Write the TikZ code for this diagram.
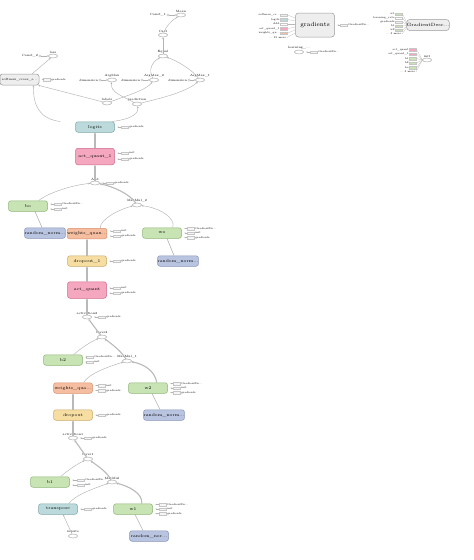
\documentclass[tikz,border=0pt]{standalone}
\usetikzlibrary{shapes.geometric,arrows.meta,calc}
\definecolor{tealf}{HTML}{BCDADB}\definecolor{teald}{HTML}{7FA8A9}
\definecolor{pinkf}{HTML}{F4A7BF}\definecolor{pinkd}{HTML}{D06A8A}
\definecolor{greenf}{HTML}{C8E3B4}\definecolor{greend}{HTML}{8CB573}
\definecolor{bluef}{HTML}{B9C5E0}\definecolor{blued}{HTML}{8894B8}
\definecolor{orangef}{HTML}{F6BEA0}\definecolor{oranged}{HTML}{D9906E}
\definecolor{yellowf}{HTML}{F6DDA2}\definecolor{yellowd}{HTML}{C9A96A}
\definecolor{grayf}{HTML}{EEEEEE}\definecolor{grayd}{HTML}{9A9A9A}
\tikzset{
  opbox/.style={draw=#1d,fill=#1f,rounded corners=2.5pt,line width=0.5pt,
    minimum width=39pt,minimum height=10.5pt,inner sep=0pt,font=\fontsize{4.2}{5}\selectfont},
  tallbox/.style={opbox=#1,minimum height=16.5pt},
  ell/.style={ellipse,draw=grayd,fill=white,line width=0.4pt,minimum width=9pt,minimum height=4pt,inner sep=0pt},
  elab/.style={font=\fontsize{3.1}{3.4}\selectfont,inner sep=0.5pt},
  cst/.style={circle,draw=grayd,fill=white,line width=0.3pt,minimum size=2.5pt,inner sep=0pt},
  abox/.style={draw=gray!45,fill=#1,line width=0.2pt,minimum width=7pt,minimum height=2.6pt,inner sep=0pt},
  abox/.default=gray!8,
  alab/.style={font=\fontsize{2.6}{2.8}\selectfont,inner sep=0.6pt},
  aedge/.style={draw=gray!60,line width=0.25pt,-{Stealth[length=1.4pt,width=1.3pt]}},
  pedge/.style={draw=gray!55,line width=0.25pt},
  edge/.style={draw=gray!60,line width=0.45pt,-{Stealth[length=2pt,width=1.8pt]}},
  tedge/.style={draw=gray!55,line width=1.1pt,-{Stealth[length=2.2pt,width=2.4pt]}},
  pline/.style={draw=gray!60,line width=0.6pt},
}
% out-annotation to the right of a node
\newcommand{\annot}[5]{%
  \node[abox] (#1) at (#2,#3) {};
  \node[alab,anchor=west] at (#1.east) {#4};
  \draw[aedge] (#1.west) -- ($(#1.west -| #5.east)+(2.5pt,0)$);}
% ellipse op with label above
\newcommand{\opel}[4]{%
  \node[ell] (#1) at (#2,#3) {};
  \node[elab,anchor=south] at (#1.north) {#4};}
% in-annotation to the left (for summary ops)
\newcommand{\inann}[6]{%
  \node[abox=#5] (#1) at (#2,#3) {};
  \node[alab,anchor=east] at (#1.west) {#4};
  \draw[pedge] (#1.east) -- #6;}
\begin{document}
\begin{tikzpicture}[x=1pt,y=-1pt]
\useasboundingbox (0,0) rectangle (474,560);
% ---------- top: metrics ----------
\node[opbox=gray,font=\fontsize{3.1}{4}\selectfont,minimum height=11pt] (sm) at (19.5,79.5) {softmax\_cross\_e...};
\annot{gsm}{47}{79.5}{gradients}{sm}
\opel{loss}{53}{56}{loss}
\node[cst] (c2) at (40,56) {};
\node[elab,anchor=east] at (c2.west) {Const\_2};
\opel{mean}{181}{15}{Mean}
\node[cst] (c1) at (168,15) {};
\node[elab,anchor=east] at (c1.west) {Const\_1};
\opel{cast}{163}{35}{Cast}
\opel{equal}{163}{56}{Equal}
\opel{am}{112}{80}{ArgMax}
\node[cst] (d1) at (100,80) {};
\node[elab,anchor=east] at (d1.west) {dimension};
\opel{am2}{154}{80}{ArgMax\_2}
\node[cst] (d2) at (142,80) {};
\node[elab,anchor=east] at (d2.west) {dimension};
\opel{am1}{200}{80}{ArgMax\_1}
\node[cst] (d3) at (189,80) {};
\node[elab,anchor=east] at (d3.west) {dimension};
\opel{lab}{107}{103}{labels}
\opel{pred}{137}{104}{prediction}
\draw[aedge] (c1) -- (mean);
\draw[aedge] (c2) -- (loss);
\draw[aedge] (d1) -- (am);
\draw[aedge] (d2) -- (am2);
\draw[aedge] (d3) -- (am1);
\draw[edge] (cast) .. controls (166,26) and (172,20) .. (mean);
\draw[edge] (equal) -- (cast);
\draw[edge] (am2) .. controls (148,70) and (152,62) .. (equal);
\draw[edge] (am1) .. controls (192,70) and (178,61) .. (equal);
\draw[edge] ([xshift=-7pt]sm.north east) -- (loss);
\draw[edge] (lab) -- ([xshift=-1pt]sm.south east);
\draw[edge] (pred) .. controls (122,96) and (110,92) .. (am);
\draw[edge] (lab) .. controls (126,96) and (146,90) .. (am2);
\draw[edge] (pred) .. controls (162,98) and (186,92) .. (am1);
% ---------- output layer ----------
\node[opbox=teal] (logits) at (95,127) {logits};
\node[tallbox=pink] (aq1) at (95,156.5) {act\_quant\_1};
\opel{add}{95}{183}{Add}
\node[opbox=green] (bo) at (28,206) {bo};
\opel{mm2}{137}{205}{MatMul\_2}
\node[opbox=blue] (rn1) at (45,233) {random\_norm...};
\node[opbox=orange] (wq1) at (87,233.5) {weights\_quan...};
\node[opbox=green] (wo) at (162,233) {wo};
\node[opbox=yellow] (do1) at (87,261) {dropout\_1};
\node[opbox=blue] (rn2) at (178,261) {random\_norm...};
\node[tallbox=pink] (aq) at (87,290) {act\_quant};
\draw[edge] ([xshift=-15pt]logits.north west) .. controls (40,119) and (33,106) .. ([xshift=14pt]sm.south);
\draw[edge] ([xshift=-3pt]logits.north east) .. controls (134,119) and (139,112) .. (pred);
\draw[tedge] (aq1) -- (logits);
\draw[tedge] (add) -- (aq1);
\draw[edge] ([xshift=-9pt]bo.north east) .. controls (48,193) and (72,185) .. (add);
\draw[tedge] (mm2) .. controls (130,194) and (112,186) .. (add);
\draw[edge] ([xshift=-7pt]wq1.north east) .. controls (100,219) and (120,209) .. (mm2);
\draw[edge] ([xshift=-9pt]wo.north east) .. controls (176,218) and (160,208) .. (mm2);
\draw[pline] ([xshift=7pt]bo.south) -- ([xshift=-3pt]rn1.north);
\draw[pline] ([xshift=5pt]wo.south) -- ([xshift=-4pt]rn2.north);
\draw[tedge] (do1) -- (wq1);
\draw[tedge] (aq) -- (do1);
\annot{a1}{125}{127}{gradients}{logits}
\annot{a2}{125}{153}{init}{aq1}
\annot{a3}{125}{159}{gradients}{aq1}
\annot{a4}{110}{183}{gradients}{add}
\annot{a5}{58}{204}{GradientDe...}{bo}
\annot{a6}{58}{209}{init}{bo}
\annot{a7}{117}{231}{init}{wq1}
\annot{a8}{117}{236}{gradients}{wq1}
\annot{a9}{191}{228.5}{GradientDe...}{wo}
\annot{a10}{191}{233}{init}{wo}
\annot{a11}{191}{237.5}{gradients}{wo}
\annot{a12}{117}{261}{gradients}{do1}
\annot{a13}{117}{288}{init}{aq}
\annot{a14}{117}{293}{gradients}{aq}
% ---------- layer 2 ----------
\opel{act2}{87}{317}{activation2}
\opel{l2}{102}{337}{layer2}
\node[opbox=green] (b2) at (63,360) {b2};
\opel{mm1}{127}{361}{MatMul\_1}
\node[opbox=orange] (wq) at (73,388) {weights\_qua...};
\node[opbox=green] (w2) at (148,388) {w2};
\node[opbox=yellow] (dp) at (73,415) {dropout};
\node[opbox=blue] (rn3) at (164,415) {random\_norm...};
\draw[tedge] (act2) -- (aq);
\draw[tedge] (l2) -- (act2);
\draw[edge] ([xshift=-9pt]b2.north east) .. controls (80,349) and (90,342) .. (l2);
\draw[tedge] (mm1) .. controls (122,352) and (112,344) .. (l2);
\draw[edge] ([xshift=-9pt]wq.north east) .. controls (88,374) and (110,366) .. (mm1);
\draw[tedge] ([xshift=-11pt]w2.north east) .. controls (155,371) and (144,364) .. (mm1);
\draw[pline] ([xshift=4pt]w2.south) -- ([xshift=-4pt]rn3.north);
\draw[tedge] (dp) -- (wq);
\annot{b1a}{90}{357}{GradientDe...}{b2}
\annot{b3a}{90}{362}{init}{b2}
\annot{b2a}{102}{317}{gradients}{act2}
\annot{b4a}{102}{385.5}{init}{wq}
\annot{b5a}{102}{390.5}{gradients}{wq}
\annot{b6a}{177}{383.5}{GradientDe...}{w2}
\annot{b7a}{177}{388}{init}{w2}
\annot{b8a}{177}{392.5}{gradients}{w2}
\annot{b9a}{102}{415}{gradients}{dp}
% ---------- layer 1 ----------
\opel{act1}{73}{438}{activation1}
\opel{l1}{88}{459}{layer1}
\node[opbox=green] (b1) at (50,482) {b1};
\opel{mm}{112}{482}{MatMul}
\node[opbox=teal] (tr) at (58,509) {transpose};
\node[opbox=green] (w1) at (133,509) {w1};
\opel{inp}{73}{536}{inputs}
\node[opbox=blue] (rn4) at (149,536) {random\_nor...};
\draw[tedge] (act1) -- (dp);
\draw[tedge] (l1) -- (act1);
\draw[edge] ([xshift=-9pt]b1.north east) .. controls (67,471) and (77,464) .. (l1);
\draw[tedge] (mm) .. controls (108,473) and (98,466) .. (l1);
\draw[edge] ([xshift=-9pt]tr.north east) .. controls (75,495) and (95,488) .. (mm);
\draw[tedge] ([xshift=-11pt]w1.north east) .. controls (143,493) and (128,486) .. (mm);
\draw[pline] ([xshift=2pt]w1.south) -- ([xshift=-6pt]rn4.north);
\draw[edge] (inp) -- ([xshift=5pt]tr.south);
\annot{c1a}{88}{438}{gradients}{act1}
\annot{c2a}{81}{480}{GradientDe...}{b1}
\annot{c3a}{81}{485}{init}{b1}
\annot{c4a}{88}{509}{gradients}{tr}
\annot{c5a}{163}{504.5}{GradientDe...}{w1}
\annot{c6a}{163}{509}{init}{w1}
\annot{c7a}{163}{513.5}{gradients}{w1}
% ---------- right: training ops ----------
\node[opbox=gray,minimum width=39pt,minimum height=24pt,rounded corners=3pt,font=\fontsize{6}{7}\selectfont] (grad) at (315,25) {gradients};
\inann{g1}{284}{15}{softmax\_cr...}{grayf}{($(grad.west)+(0,-7)$)}
\inann{g2}{284}{19.5}{logits}{tealf}{($(grad.west)+(0,-4)$)}
\inann{g3}{284}{24}{Add}{white}{($(grad.west)+(0,-1)$)}
\inann{g4}{284}{28.5}{act\_quant\_1}{pinkf}{($(grad.west)+(0,2)$)}
\inann{g5}{284}{33}{weights\_qu...}{orangef}{($(grad.west)+(0,5)$)}
\node[alab,anchor=east] (gmore) at (287,37.5) {... 21 more};
\draw[pedge] (gmore.east) -- ($(grad.west)+(0,8)$);
\annot{g6}{344}{25}{GradientDe...}{grad}
\opel{lr}{299}{52}{learning\_...}
\annot{g7}{314}{52}{GradientDe...}{lr}
\node[opbox=gray,minimum width=37pt,minimum height=11pt,rounded corners=3pt,font=\fontsize{4.6}{5}\selectfont] (gd) at (428,25) {GradientDesc...};
\inann{h1}{399}{14}{w1}{greenf}{($(gd.west)+(0,-3)$)}
\inann{h2}{399}{18}{learning\_rate}{white}{($(gd.west)+(0,-1.5)$)}
\inann{h3}{399}{22}{gradients}{grayf}{($(gd.west)+(0,-0.5)$)}
\inann{h4}{399}{26}{b1}{greenf}{($(gd.west)+(0,0.5)$)}
\inann{h5}{399}{30}{w2}{greenf}{($(gd.west)+(0,1.5)$)}
\node[alab,anchor=east] (hmore) at (402,34) {... 3 more};
\draw[pedge] (hmore.east) -- ($(gd.west)+(0,3)$);
\opel{init}{427}{60}{init}
\inann{i1}{413}{49.5}{act\_quant}{pinkf}{(init.west)}
\inann{i2}{413}{54}{act\_quant\_1}{pinkf}{(init.west)}
\inann{i3}{413}{58.5}{b1}{greenf}{(init.west)}
\inann{i4}{413}{63}{b2}{greenf}{(init.west)}
\inann{i5}{413}{67.5}{bo}{greenf}{(init.west)}
\node[alab,anchor=east] (imore) at (416,72) {... 3 more};
\draw[pedge] (imore.east) -- (init.west);
\end{tikzpicture}
\end{document}
